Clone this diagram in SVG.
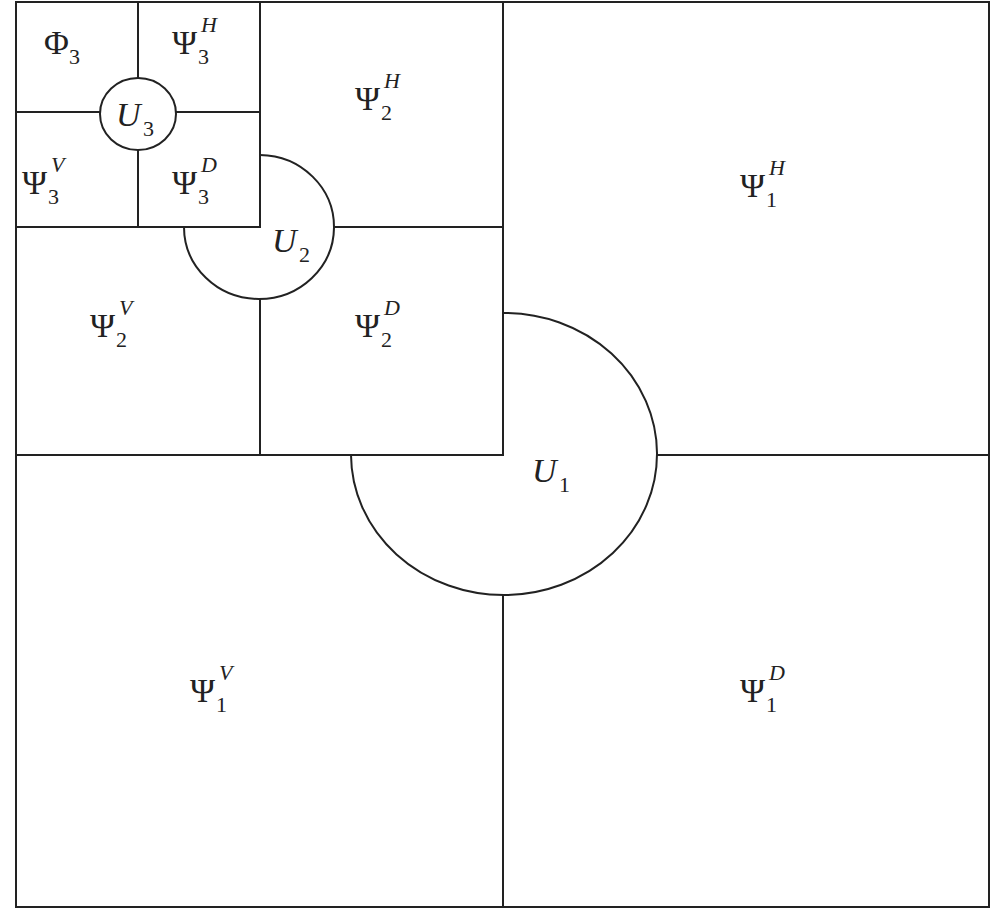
<svg xmlns="http://www.w3.org/2000/svg" width="997" height="910" viewBox="0 0 997 910">
<style>
.l{stroke:#222;stroke-width:2;fill:none}
.w{fill:#fff;stroke:none}
text{font-family:"Liberation Serif",serif;fill:#222}
.m{font-size:34px}
.s{font-size:22px}
.i{font-style:italic}
</style>
<rect width="997" height="910" fill="#fff"/>
<g id="connectors">
<rect class="l" x="16" y="2" width="973" height="905"/>
<line class="l" x1="503" y1="2" x2="503" y2="907"/>
<line class="l" x1="16" y1="455" x2="989" y2="455"/>
<line class="l" x1="260" y1="2" x2="260" y2="455"/>
<line class="l" x1="16" y1="227" x2="503" y2="227"/>
<line class="l" x1="138" y1="2" x2="138" y2="227"/>
<line class="l" x1="16" y1="112" x2="260" y2="112"/>
<path class="w" d="M503 455 L503 313 A153 141 0 1 1 351 455 Z"/>
<path class="w" d="M260 227 L260 155 A75 72 0 1 1 184 227 Z"/>
<line class="l" x1="503" y1="300" x2="503" y2="456"/>
<line class="l" x1="340" y1="455" x2="504" y2="455"/>
<line class="l" x1="260" y1="150" x2="260" y2="228"/>
<line class="l" x1="180" y1="227" x2="261" y2="227"/>
<path class="l" d="M503 313 A153 141 0 1 1 351 455"/>
<path class="l" d="M260 155 A75 72 0 1 1 184 227"/>
<ellipse cx="138" cy="114" rx="38" ry="36" fill="#fff" stroke="#222" stroke-width="2"/>
</g>
<g id="U1"><text class="m i" x="532" y="482">U</text><text class="s" x="559" y="492">1</text></g>
<g id="U2"><text class="m i" x="272" y="252">U</text><text class="s" x="299" y="262">2</text></g>
<g id="U3"><text class="m i" x="116" y="126">U</text><text class="s" x="143" y="136">3</text></g>
<g id="Phi3"><text class="m" x="44" y="54">Φ</text><text class="s" x="69" y="64">3</text></g>
<g id="Psi3H"><text class="m" x="172" y="54">Ψ</text><text class="s" x="198" y="64">3</text><text class="s i" x="201" y="32">H</text></g>
<g id="Psi3V"><text class="m" x="22" y="194">Ψ</text><text class="s" x="48" y="204">3</text><text class="s i" x="51" y="172">V</text></g>
<g id="Psi3D"><text class="m" x="172" y="194">Ψ</text><text class="s" x="198" y="204">3</text><text class="s i" x="201" y="172">D</text></g>
<g id="Psi2H"><text class="m" x="355" y="110">Ψ</text><text class="s" x="381" y="120">2</text><text class="s i" x="384" y="88">H</text></g>
<g id="Psi2V"><text class="m" x="90" y="337">Ψ</text><text class="s" x="116" y="347">2</text><text class="s i" x="119" y="315">V</text></g>
<g id="Psi2D"><text class="m" x="355" y="337">Ψ</text><text class="s" x="381" y="347">2</text><text class="s i" x="384" y="315">D</text></g>
<g id="Psi1H"><text class="m" x="740" y="197">Ψ</text><text class="s" x="766" y="207">1</text><text class="s i" x="769" y="175">H</text></g>
<g id="Psi1V"><text class="m" x="190" y="702">Ψ</text><text class="s" x="216" y="712">1</text><text class="s i" x="219" y="680">V</text></g>
<g id="Psi1D"><text class="m" x="740" y="702">Ψ</text><text class="s" x="766" y="712">1</text><text class="s i" x="769" y="680">D</text></g>
</svg>
